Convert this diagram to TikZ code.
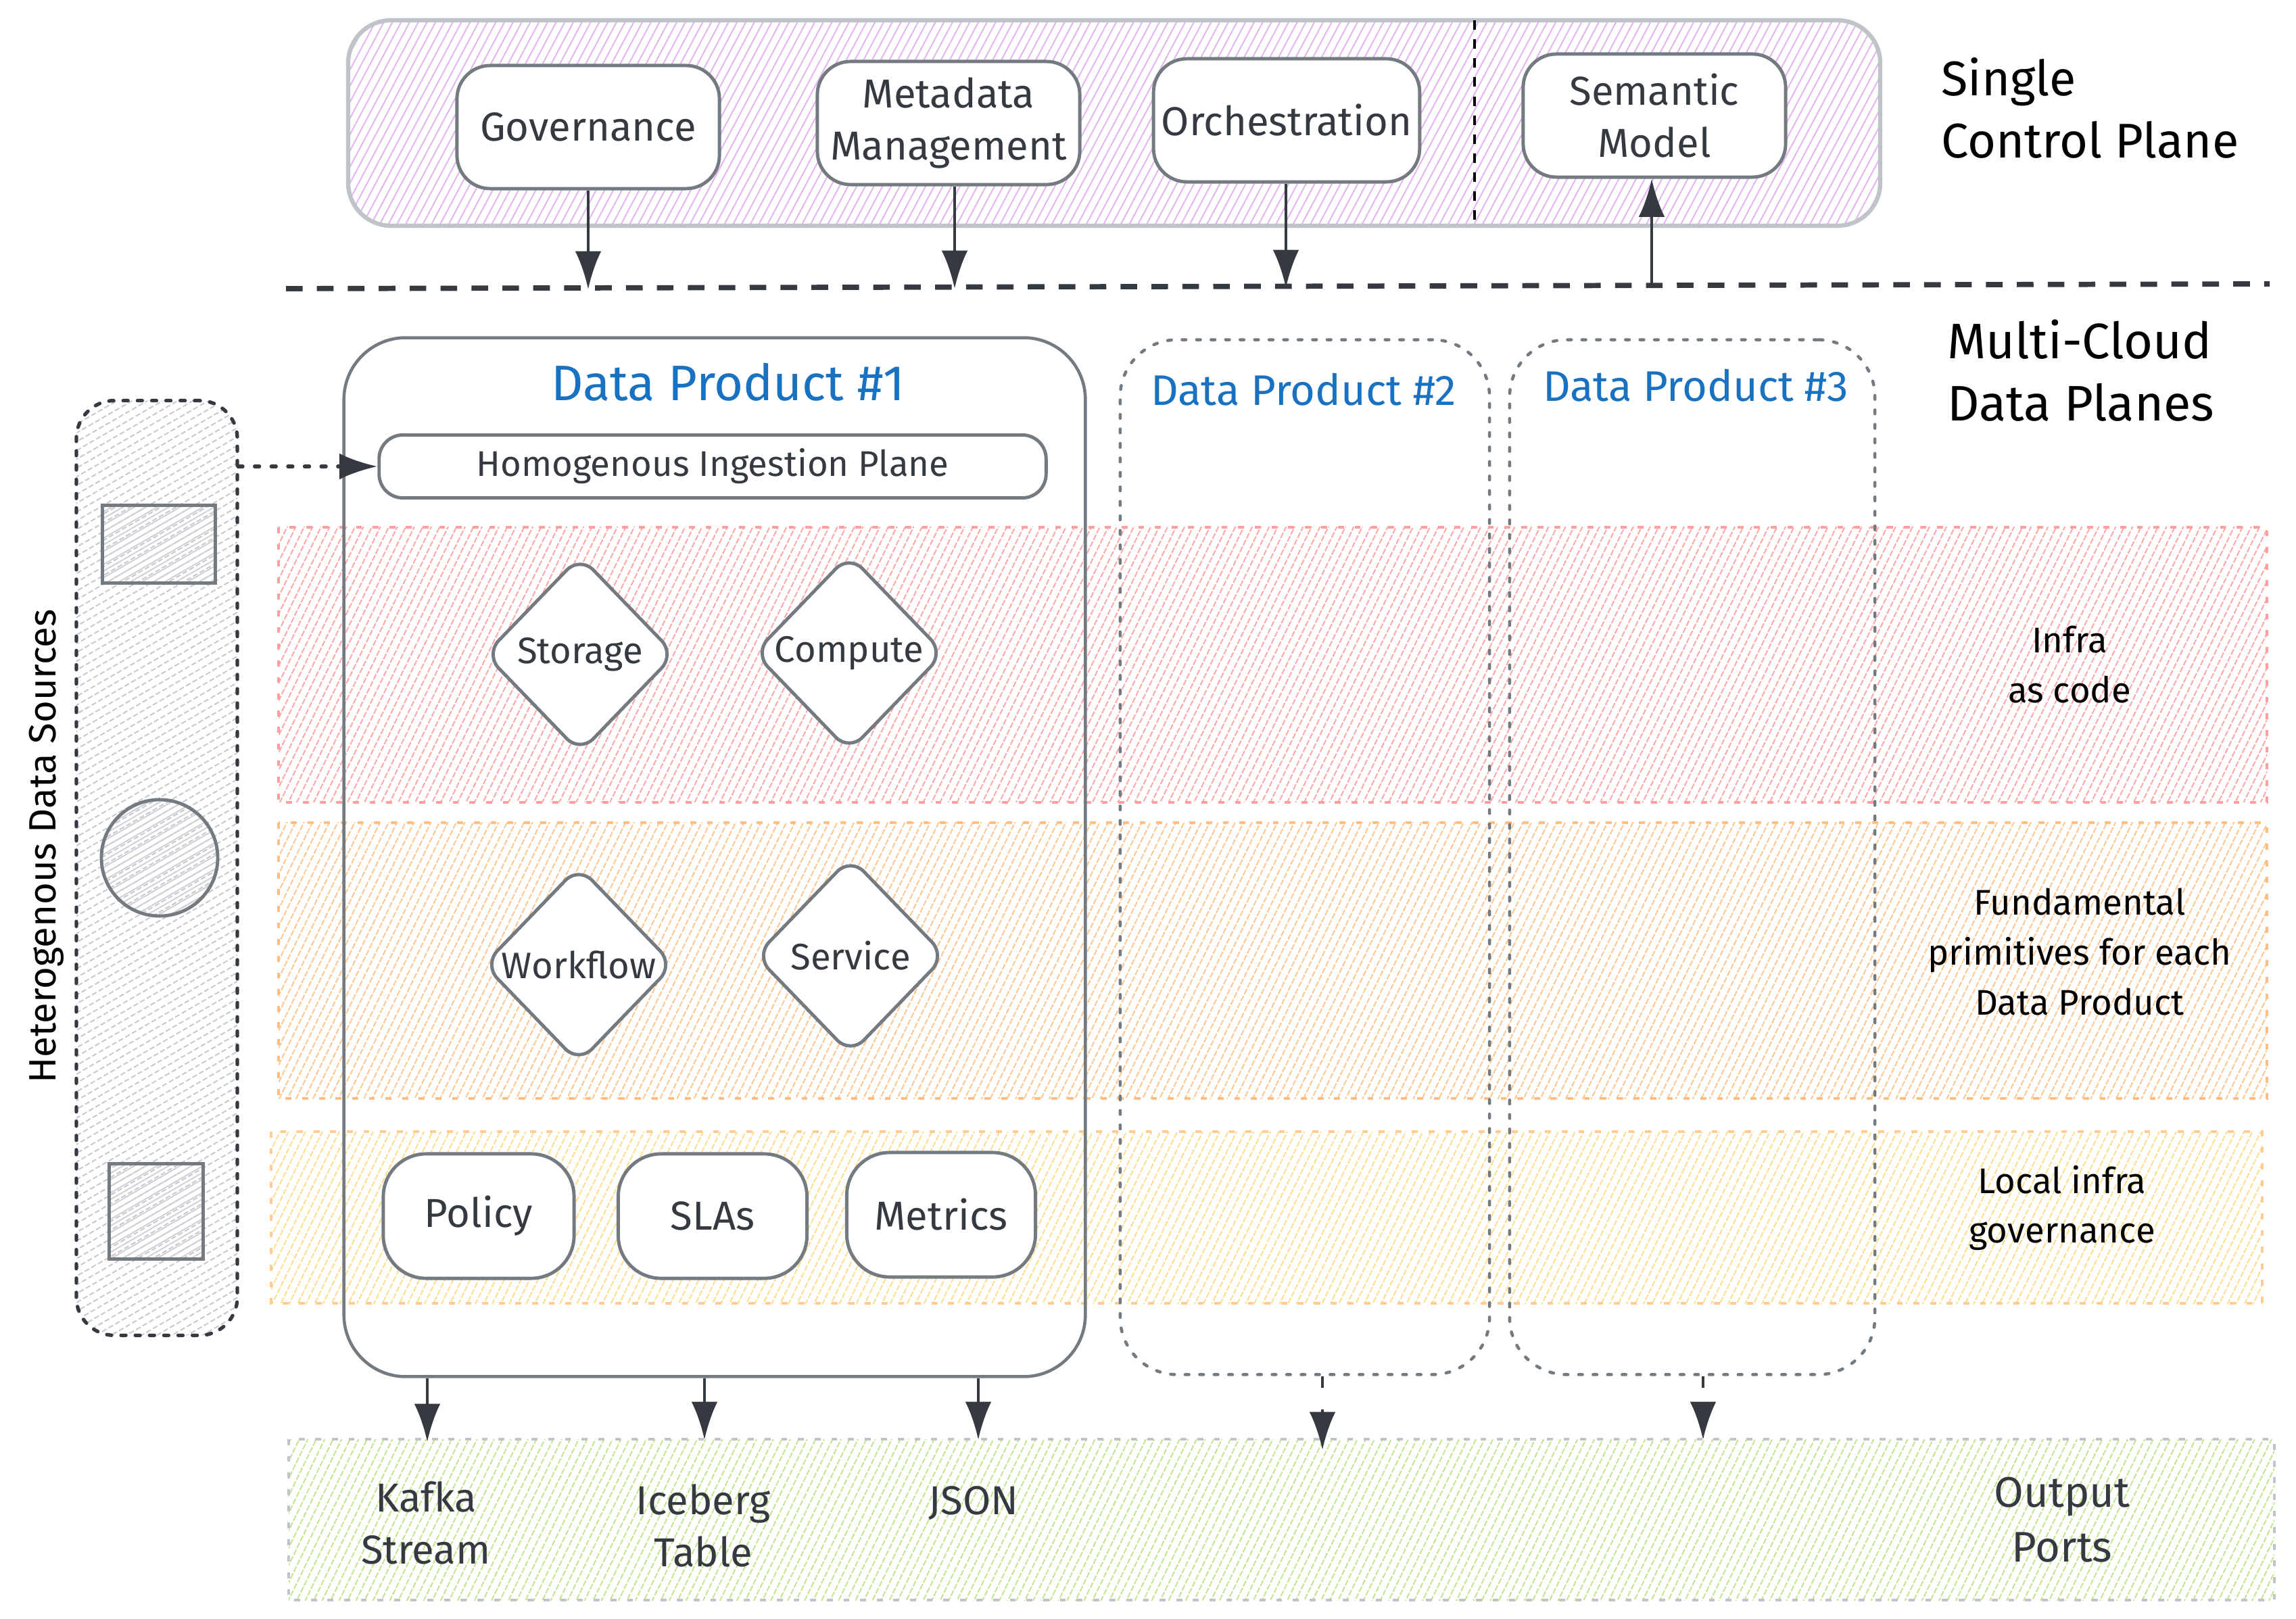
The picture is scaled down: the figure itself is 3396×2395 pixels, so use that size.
\documentclass[tikz,border=0pt]{standalone}
\usepackage{fontspec}
\setmainfont{Fira Sans}
\usetikzlibrary{shapes.geometric,patterns.meta,arrows.meta}
\definecolor{ink}{HTML}{343A40}
\definecolor{edge}{HTML}{737A80}
\definecolor{dpblue}{HTML}{1971C2}
\definecolor{redline}{HTML}{FFA0A0}
\definecolor{redhatch}{HTML}{FFA6A6}
\definecolor{orgline}{HTML}{FFBE85}
\definecolor{orghatch}{HTML}{FFC690}
\definecolor{yelline}{HTML}{FFCC95}
\definecolor{yelhatch}{HTML}{FFDD8C}
\definecolor{grnline}{HTML}{BFC4C9}
\definecolor{grnhatch}{HTML}{C2E690}
\definecolor{purhatch}{HTML}{E3B3F0}
\definecolor{srchatch}{HTML}{C3C9D0}
\begin{document}
\begin{tikzpicture}[x=0.01cm,y=-0.01cm,
    every node/.style={text=ink},
    band/.style 2 args={draw=#1,line width=1.2pt,dash pattern=on 2.5pt off 4.5pt,
        pattern={Lines[angle=64,distance=3.2pt,line width=0.55pt]},pattern color=#2},
    block/.style={draw=edge,line width=1.4pt,rounded corners=14pt,fill=white,align=center,
        font=\fontsize{17}{22}\selectfont},
    rhomb/.style={diamond,draw=edge,line width=1.4pt,rounded corners=8pt,fill=white,inner sep=0pt,
        minimum width=2.82cm,minimum height=2.92cm,font=\fontsize{15.5}{20}\selectfont},
    product/.style={draw=edge,line width=1.3pt,dash pattern=on 1.6pt off 4.5pt,line cap=round,
        rounded corners=24pt,minimum height=15.3cm},
    dptitle/.style={text=dpblue,font=\fontsize{#1}{22}\selectfont},
    note/.style={text=black,align=center,font=\fontsize{16}{21}\selectfont},
    srcshape/.style={draw=edge,line width=1.4pt,pattern={Lines[angle=30,distance=2.4pt,line width=0.55pt]},
        pattern color=edge!35},
    flow/.style={ink,line width=1.4pt,-{Latex[length=16pt,width=11pt]}},
]
\useasboundingbox (0,0) rectangle (3396,2395);

% control plane
\draw[draw=grnline,line width=1.8pt,rounded corners=18pt,
    pattern={Lines[angle=62,distance=3.2pt,line width=0.55pt]},pattern color=purhatch] (515,30) rectangle (2781,334);
\draw[black,line width=1.3pt,dash pattern=on 4pt off 4pt] (2181,30) -- (2181,325);
\node[block,minimum width=3.88cm,minimum height=1.82cm] (gov) at (870,188) {Governance};
\node[block,minimum width=3.88cm,minimum height=1.82cm] (meta) at (1403,182) {Metadata\\Management};
\node[block,minimum width=3.88cm,minimum height=1.82cm] (orch) at (1903,178) {Orchestration};
\node[block,minimum width=3.88cm,minimum height=1.82cm] (sem) at (2447,171) {Semantic\\Model};
\node[note,align=left,anchor=west,font=\fontsize{20.5}{26}\selectfont] (cplabel) at (2859,160) {Single\\Control Plane};

% split line
\coordinate (cutL) at (423,427);
\coordinate (cutR) at (3357,420);
\draw[ink,line width=2.2pt,dash pattern=on 7pt off 6pt] (cutL) -- (cutR);
\coordinate (govin) at (870,428);
\coordinate (metain) at (1412,427);
\coordinate (orchin) at (1902,426);
\coordinate (semout) at (2443,421);
\draw[flow] (gov.south -| govin) -- (govin);
\draw[flow] (meta.south -| metain) -- (metain);
\draw[flow] (orch.south -| orchin) -- (orchin);
\draw[flow] (semout) -- (sem.south -| semout);
\node[note,align=left,anchor=west,font=\fontsize{21}{26}\selectfont] (dplabel) at (2868,548) {Multi-Cloud\\Data Planes};

% layers
\draw[band={redline}{redhatch}] (412,780) rectangle (3353,1187);
\draw[band={orgline}{orghatch}] (412,1217) rectangle (3353,1625);
\draw[band={yelline}{yelhatch}] (401,1674) rectangle (3346,1928);
\draw[band={grnline}{grnhatch}] (427,2129) rectangle (3364,2367);
\node[note,font=\fontsize{15}{21}\selectfont] (iac) at (3061,983) {Infra\\as code};
\node[note,font=\fontsize{15}{21}\selectfont] (prim) at (3076,1408) {Fundamental\\primitives for each\\Data Product};
\node[note,font=\fontsize{15}{21}\selectfont] (localgov) at (3050,1787) {Local infra\\governance};
\node[note,text=ink,font=\fontsize{18}{23}\selectfont] (ports) at (3050,2248) {Output\\Ports};

% data sources
\node[draw=ink,line width=1.5pt,dash pattern=on 2pt off 4pt,line cap=round,rounded corners=16pt,
    minimum width=2.38cm,minimum height=13.82cm,
    pattern={Lines[angle=30,distance=3.2pt,line width=0.55pt]},pattern color=srchatch] (src) at (232,1284) {};
\node[srcshape,minimum width=1.66cm,minimum height=1.15cm] (srcA) at (235,805) {};
\node[srcshape,circle,minimum size=1.72cm] (srcB) at (236,1269) {};
\node[srcshape,minimum width=1.39cm,minimum height=1.41cm] (srcC) at (231,1792) {};
\node[rotate=90,font=\fontsize{16}{20}\selectfont,text=black] (srclabel) at (69,1252) {Heterogenous Data Sources};

% data products
\node[product,draw=edge,dash pattern={},line cap=butt,rounded corners=26pt,minimum width=10.96cm,minimum height=15.36cm] (dp1) at (1057,1268) {};
\node[product,minimum width=5.46cm] (dp2) at (1930,1268) {};
\node[product,minimum width=5.40cm] (dp3) at (2503,1268) {};
\node[dptitle=21] (dp1t) at (1077,565) {Data Product \#1};
\node[dptitle=18] (dp2t) at (1928,576) {Data Product \#2};
\node[dptitle=18] (dp3t) at (2508,570) {Data Product \#3};
\node[block,rounded corners=10pt,minimum width=9.86cm,minimum height=0.93cm,font=\fontsize{15}{18}\selectfont] (ingest) at (1054,690) {Homogenous Ingestion Plane};
\draw[ink,line width=1.5pt,dash pattern=on 2pt off 5pt,line cap=round,-{Latex[length=16pt,width=11pt]}] (src.east |- ingest.west) -- (ingest.west);

\node[rhomb] (storage) at (858,968) {Storage};
\node[rhomb] (compute) at (1256,966) {Compute};
\node[rhomb] (workflow) at (856,1427) {Workflow};
\node[rhomb] (service) at (1258,1414) {Service};

\node[block,rounded corners=18pt,minimum width=2.82cm,minimum height=1.84cm] (policy) at (708,1799) {Policy};
\node[block,rounded corners=18pt,minimum width=2.79cm,minimum height=1.84cm] (slas) at (1054,1799) {SLAs};
\node[block,rounded corners=18pt,minimum width=2.79cm,minimum height=1.84cm] (metrics) at (1392,1797) {Metrics};

% output ports
\node[font=\fontsize{17}{22}\selectfont,align=center] (kafka) at (630,2253) {Kafka\\Stream};
\node[font=\fontsize{17}{22}\selectfont,align=center] (iceberg) at (1040,2257) {Iceberg\\Table};
\node[font=\fontsize{17}{22}\selectfont] (json) at (1440,2224) {JSON};
\coordinate (kin) at (632,2133);
\coordinate (iin) at (1042,2130);
\coordinate (jin) at (1447,2130);
\coordinate (p2in) at (1956,2145);
\coordinate (p3in) at (2519,2130);
\draw[flow] (dp1.south -| kin) -- (kin);
\draw[flow] (dp1.south -| iin) -- (iin);
\draw[flow] (dp1.south -| jin) -- (jin);
\draw[flow,dash pattern=on 5pt off 9pt] (dp2.south -| p2in) -- (p2in);
\draw[flow,dash pattern=on 5pt off 9pt] (dp3.south -| p3in) -- (p3in);
\end{tikzpicture}
\end{document}
